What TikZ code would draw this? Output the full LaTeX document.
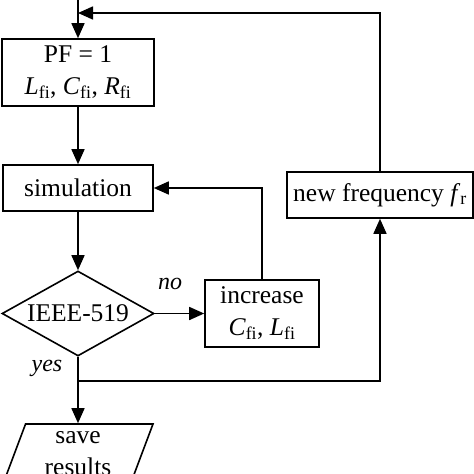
\documentclass[tikz,border=0pt]{standalone}
\usepackage{fontspec}
\setmainfont{Liberation Serif}
\usepackage{tikz}
\usetikzlibrary{shapes,arrows,positioning,calc,arrows.meta}

\newcommand{\sub}[2]{\textit{#1}\textsubscript{#2}}

\begin{document}
\begin{tikzpicture}[x=1pt,y=-1pt,
    line width=1.6pt,
    >={Triangle[length=15pt,width=13pt]},
    txt/.style={font=\fontsize{25.5}{30}\selectfont},
    blk/.style={draw,txt,rectangle,align=center,inner sep=0pt},
    lbl/.style={txt,font=\fontsize{24}{28}\selectfont\itshape}]
    \useasboundingbox (0,0) rectangle (474,474);
    \clip (0,0) rectangle (474,474);
    % blocks
    \node[blk,minimum width=152pt,minimum height=67pt] (pf) at (78,72.5) {PF = 1\\[2pt]\sub{L}{fi}, \sub{C}{fi}, \sub{R}{fi}};
    \node[blk,minimum width=150pt,minimum height=46pt] (sim) at (78,188) {simulation};
    \node[draw,txt,diamond,aspect=1.8,minimum width=152pt,minimum height=85pt,inner sep=0pt] (dec) at (78,313.5) {IEEE-519};
    \node[blk,minimum width=114pt,minimum height=67pt] (inc) at (262,313.5) {increase\\[2pt]\sub{C}{fi}, \sub{L}{fi}};
    \node[blk,minimum width=186pt,minimum height=46pt] (nf) at (380,195) {new frequency \sub{f}{r}};
    \node[draw,txt,trapezium,trapezium left angle=63,trapezium right angle=117,
          minimum width=150pt,minimum height=60pt,align=center,inner sep=0pt,
          trapezium stretches body] (save) at (78,454) {save\\[2pt]results};
    % helper points
    \coordinate (top) at (78,0);
    \coordinate (back) at (78,13);
    \coordinate (yj) at (78,381);
    % connectors
    \draw[->] (top) -- (pf);
    \draw[->] (pf) -- (sim);
    \draw[->] (sim) -- (dec);
    \draw[->] (dec) -- (inc);
    \draw[->] (inc.north) |- (sim.east);
    \draw[->] (dec.south) -- (save.north);
    \draw[->] (yj) -| (nf.south);
    \draw[->] (nf.north) |- (back);
    % labels
    \node[lbl] (no) at (170,284) {no};
    \node[lbl] (yes) at (47,368) {yes};
\end{tikzpicture}
\end{document}
